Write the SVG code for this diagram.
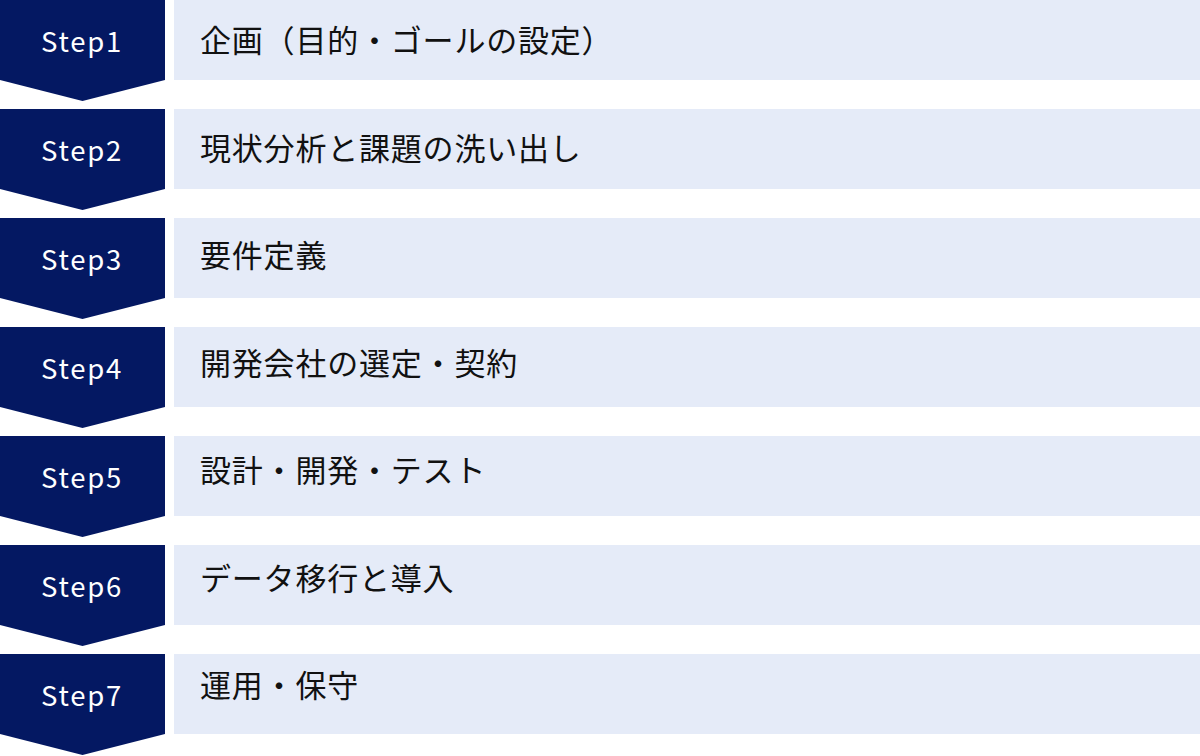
<svg xmlns="http://www.w3.org/2000/svg" width="1200" height="756" viewBox="0 0 1200 756">
<style>
.arrow{fill:#041862}
.bar{fill:#E5EBF8}
.step{font-family:"Noto Sans CJK JP",sans-serif;font-size:27.5px;font-weight:400;fill:#ffffff;letter-spacing:1.8px}
.label{font-family:"Noto Sans CJK JP",sans-serif;font-size:31px;fill:#111111;letter-spacing:0.8px}
</style>
<defs>
<path id="chev" d="M0 0H165V80L82.5 101L0 80Z"/>
</defs>
<g id="step1">
<use href="#chev" class="arrow"/><rect class="bar" x="174" y="0" width="1026" height="80"/>
<text class="step" x="41" y="52">Step1</text><text class="label" x="200" y="52">企画（目的・ゴールの設定）</text>
</g>
<g id="step2">
<use href="#chev" class="arrow" y="109"/><rect class="bar" x="174" y="109" width="1026" height="80"/>
<text class="step" x="41" y="161">Step2</text><text class="label" x="200" y="159.5">現状分析と課題の洗い出し</text>
</g>
<g id="step3">
<use href="#chev" class="arrow" y="218"/><rect class="bar" x="174" y="218" width="1026" height="80"/>
<text class="step" x="41" y="270">Step3</text><text class="label" x="200" y="267">要件定義</text>
</g>
<g id="step4">
<use href="#chev" class="arrow" y="327"/><rect class="bar" x="174" y="327" width="1026" height="80"/>
<text class="step" x="41" y="379">Step4</text><text class="label" x="200" y="374.5">開発会社の選定・契約</text>
</g>
<g id="step5">
<use href="#chev" class="arrow" y="436"/><rect class="bar" x="174" y="436" width="1026" height="80"/>
<text class="step" x="41" y="488">Step5</text><text class="label" x="200" y="482">設計・開発・テスト</text>
</g>
<g id="step6">
<use href="#chev" class="arrow" y="545"/><rect class="bar" x="174" y="545" width="1026" height="80"/>
<text class="step" x="41" y="597">Step6</text><text class="label" x="200" y="589.5">データ移行と導入</text>
</g>
<g id="step7">
<use href="#chev" class="arrow" y="654"/><rect class="bar" x="174" y="654" width="1026" height="80"/>
<text class="step" x="41" y="706">Step7</text><text class="label" x="200" y="697">運用・保守</text>
</g>
<g id="connectors"/>
</svg>
